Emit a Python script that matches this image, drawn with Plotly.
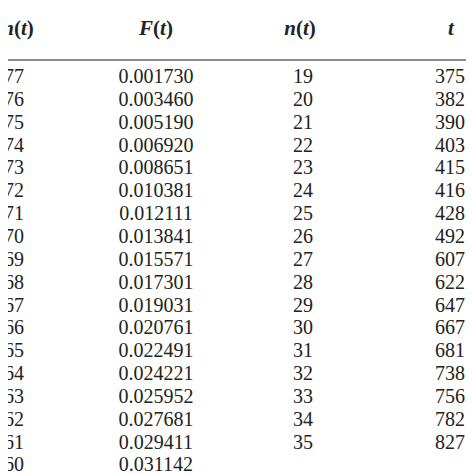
import plotly.graph_objects as go

col1 = ["77","76","75","74","73","72","71","70","69","68","67","66","65","64","63","62","61","60"]
F_t = ["0.001730","0.003460","0.005190","0.006920","0.008651","0.010381","0.012111","0.013841","0.015571",
       "0.017301","0.019031","0.020761","0.022491","0.024221","0.025952","0.027681","0.029411","0.031142"]
n_t = ["19","20","21","22","23","24","25","26","27","28","29","30","31","32","33","34","35"]
t_vals = ["375","382","390","403","415","416","428","492","607","622","647","667","681","738","756","782","827"]
headers = ["<b><i>n</i>(<i>t</i>)</b>", "<b><i>F</i>(<i>t</i>)</b>", "<b><i>n</i>(<i>t</i>)</b>", "<b><i>t</i></b>"]

y0, dy = 70, 22.85
font = dict(family="Liberation Serif", size=20, color="#222")
hfont = dict(family="Liberation Serif", size=21, color="#222")
fig = go.Figure()

def col(vals, x, pos):
    fig.add_trace(go.Scatter(x=[x]*len(vals), y=[y0 + i*dy for i in range(len(vals))],
                             text=vals, mode="text", textposition=pos, textfont=font,
                             hoverinfo="skip", showlegend=False))

col(col1, 16, "middle left")
col(F_t, 148, "middle center")
col(n_t, 285, "middle right")
col(t_vals, 457, "middle left")
fig.add_trace(go.Scatter(x=[10, 148, 292, 443], y=[22]*4, text=headers, mode="text",
                         textposition="middle center", textfont=hfont, hoverinfo="skip", showlegend=False))
fig.add_shape(type="line", x0=0, x1=474, y0=52, y1=52, line=dict(color="#666", width=1.5))
fig.update_xaxes(range=[0, 474], visible=False)
fig.update_yaxes(range=[474, 0], visible=False)
fig.update_layout(width=474, height=474, margin=dict(l=0, r=0, t=0, b=0),
                  plot_bgcolor="white", paper_bgcolor="white")
fig.write_html("out.html")
